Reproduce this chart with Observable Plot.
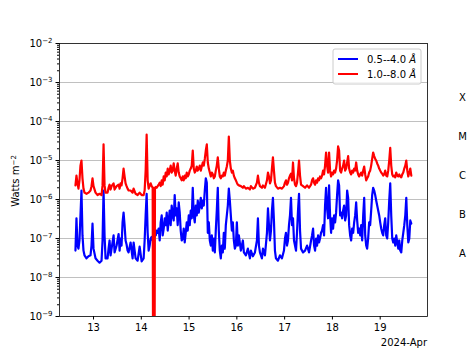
<!DOCTYPE html>
<html><head><meta charset="utf-8">
<script src="https://cdn.jsdelivr.net/npm/d3@7"></script>
<script src="https://cdn.jsdelivr.net/npm/@observablehq/plot@0.6"></script>
<style>
html,body{margin:0;padding:0;background:#fff;}
#chart{width:474px;height:355px;}
</style></head><body><div id="chart"></div>
<script>
// Time in days of April 2024
const days = [
12.622,12.643,12.664,12.685,12.706,12.727,12.748,12.769,12.790,12.811,12.853,12.895,12.937,12.958,12.979,
13.000,13.042,13.084,13.126,13.168,13.189,13.210,13.231,13.252,13.294,13.315,13.336,13.357,13.378,13.420,
13.441,13.483,13.525,13.546,13.566,13.587,13.608,13.629,13.650,13.671,13.692,13.713,13.734,13.776,13.818,
13.839,13.881,13.923,13.965,14.007,14.049,14.070,14.091,14.112,14.133,14.154,14.175,14.196,14.217,14.238,
14.250,14.262,14.274,14.286,14.304,14.322,
14.343,14.364,14.385,14.406,14.427,14.448,14.469,14.490,14.511,14.532,14.553,14.573,14.594,14.615,14.636,
14.657,14.678,14.699,14.720,14.741,14.762,14.783,14.804,14.825,14.846,14.867,14.888,14.909,14.930,14.951,
14.972,14.993,15.014,15.035,15.056,15.077,15.098,15.119,15.140,15.161,15.182,15.203,15.224,15.245,15.266,
15.287,15.308,15.329,15.350,15.371,15.392,15.413,15.434,15.455,15.476,15.497,15.518,15.539,15.559,15.580,
15.601,15.622,15.643,15.664,15.685,15.706,15.727,15.748,15.769,15.790,15.811,15.832,15.853,15.874,15.895,
15.916,15.937,15.958,15.979,16.000,16.021,16.042,16.084,16.126,16.147,16.189,16.231,16.273,16.294,16.336,
16.378,16.420,16.441,16.462,16.483,16.525,16.546,16.588,16.630,16.651,16.672,16.693,16.714,16.734,16.755,
16.776,16.797,16.818,16.860,16.902,16.944,16.986,17.007,17.028,17.049,17.070,17.091,17.112,17.133,17.154,
17.175,17.196,17.217,17.238,17.259,17.280,17.301,17.322,17.343,17.385,17.427,17.469,17.511,17.553,17.574,
17.595,17.616,17.637,17.658,17.679,17.700,17.720,17.741,17.762,17.783,17.804,17.825,17.846,17.867,17.888,
17.909,17.930,17.951,17.972,17.993,18.014,18.035,18.056,18.077,18.098,18.119,18.140,18.161,18.182,18.203,
18.224,18.245,18.266,18.287,18.308,18.329,18.350,18.371,18.392,18.413,18.434,18.455,18.476,18.497,18.518,
18.539,18.560,18.581,18.602,18.623,18.644,18.665,18.686,18.707,18.727,18.748,18.769,18.790,18.811,18.832,
18.853,18.874,18.895,18.916,18.937,18.958,18.979,19.000,19.021,19.042,19.063,19.084,19.105,19.126,19.147,
19.168,19.189,19.210,19.231,19.252,19.273,19.294,19.315,19.336,19.357,19.378,19.399,19.420,19.441,19.462,
19.483,19.504,19.525,19.546,19.567,19.588,19.609,19.630,19.651
];
// 0.5--4.0 Å channel (W m^-2)
const flux05to40 = [
4.9e-8,3.3e-7,6.6e-8,5.5e-8,8.9e-8,3.9e-7,1.7e-6,1.2e-7,4.9e-8,3.7e-8,3.1e-8,3.5e-8,3.7e-8,6.6e-8,2.4e-7,
5.5e-8,3.1e-8,2.7e-8,2.4e-8,2.7e-8,8.9e-8,1.7e-6,1.2e-7,3.1e-8,3.1e-8,5.5e-8,8.9e-8,3.7e-8,5.5e-8,1.2e-7,
4.4e-8,6.6e-8,1.3e-7,4.9e-8,1.0e-7,6.6e-8,2.6e-7,4.6e-7,2.2e-7,8.9e-8,7.0e-8,4.9e-8,4.4e-8,7.9e-8,3.1e-8,
7.9e-8,3.1e-8,2.7e-8,6.2e-8,2.6e-8,3.1e-8,8.9e-8,3.9e-7,1.4e-6,1.4e-7,4.9e-8,6.6e-8,1.0e-7,1.1e-7,8.9e-8,
1.2e-7,1.4e-7,1.1e-7,1.6e-7,1.2e-7,1.6e-7,
1.4e-7,1.8e-7,8.9e-8,2.6e-7,3.9e-7,1.2e-7,1.8e-7,3.3e-7,2.2e-7,4.6e-7,1.6e-7,2.9e-7,5.2e-7,2.2e-7,7.0e-7,
3.9e-7,2.9e-7,1.3e-6,3.9e-7,5.9e-7,2.2e-7,8.4e-7,4.6e-7,1.6e-7,8.9e-8,1.0e-7,1.8e-7,7.9e-8,1.4e-7,2.6e-7,
1.6e-7,3.9e-7,2.2e-7,5.2e-7,3.3e-7,2.0e-6,3.9e-7,2.6e-7,7.0e-7,3.9e-7,9.4e-7,4.6e-7,7.0e-7,1.1e-6,5.9e-7,
9.4e-7,7.0e-7,1.7e-6,3.5e-6,2.7e-6,1.4e-7,2.6e-7,8.9e-8,6.6e-8,1.2e-7,4.9e-8,1.0e-7,4.4e-8,1.6e-7,5.2e-7,
2.0e-6,1.6e-7,4.9e-8,3.1e-8,6.6e-8,4.4e-8,1.4e-7,5.5e-8,2.2e-7,3.9e-7,7.0e-7,1.9e-6,9.4e-7,3.9e-7,1.6e-7,
2.6e-7,8.9e-8,5.5e-8,6.6e-8,2.6e-7,6.6e-8,1.2e-7,4.9e-8,8.9e-8,4.4e-8,3.7e-8,5.5e-8,3.1e-8,4.9e-8,3.5e-8,
4.4e-8,8.9e-8,3.3e-7,6.6e-8,4.4e-8,3.1e-8,5.5e-8,3.7e-8,1.4e-7,5.9e-7,2.2e-7,8.9e-8,1.6e-7,5.2e-7,1.1e-6,
2.9e-7,4.9e-8,3.1e-8,2.7e-8,3.7e-8,3.1e-8,4.9e-8,1.0e-7,1.4e-7,6.6e-8,8.9e-8,2.2e-7,3.9e-7,1.1e-6,2.2e-7,
3.3e-7,8.9e-8,6.6e-8,4.9e-8,1.4e-7,5.2e-7,1.4e-6,1.6e-7,5.5e-8,4.4e-8,4.9e-8,6.6e-8,4.4e-8,8.9e-8,1.2e-7,
1.8e-7,6.6e-8,4.9e-8,1.0e-7,6.6e-8,1.2e-7,7.9e-8,1.0e-7,1.4e-7,1.6e-7,2.2e-7,1.2e-7,7.0e-7,2.0e-6,5.9e-7,
3.3e-7,2.3e-6,3.9e-7,1.4e-7,3.3e-7,1.8e-7,3.9e-7,2.6e-7,4.6e-7,1.3e-6,3.1e-6,2.3e-6,3.9e-7,4.6e-7,3.3e-7,
5.2e-7,7.0e-7,2.9e-7,3.9e-7,1.7e-6,1.1e-6,2.2e-7,1.2e-7,8.9e-8,1.8e-7,1.4e-7,2.6e-7,3.9e-7,8.4e-7,2.9e-7,
1.4e-7,1.8e-7,1.2e-7,2.2e-7,8.9e-8,3.9e-7,1.1e-6,1.2e-7,6.6e-8,5.5e-8,1.0e-7,2.6e-7,2.2e-7,5.2e-7,1.3e-6,
2.0e-6,1.7e-6,1.3e-6,9.4e-7,7.0e-7,5.2e-7,3.9e-7,2.6e-7,1.8e-7,1.4e-7,1.2e-7,2.2e-7,3.3e-7,1.2e-7,1.0e-7,
2.6e-7,9.4e-7,2.6e-6,3.9e-7,1.0e-7,7.9e-8,1.0e-7,6.6e-8,1.2e-7,7.9e-8,5.5e-8,8.9e-8,4.9e-8,4.4e-8,8.9e-8,
1.4e-7,2.2e-7,3.9e-7,1.1e-6,2.2e-7,7.9e-8,1.0e-7,2.9e-7,2.4e-7
];
// 1.0--8.0 Å channel (W m^-2); 1e-12 marks the data dropout near Apr 14.26
const flux10to80 = [
2.3e-6,4.1e-6,2.6e-6,1.9e-6,3.1e-6,7.4e-6,1.0e-5,3.5e-6,1.9e-6,1.5e-6,1.4e-6,1.5e-6,1.7e-6,2.2e-6,3.5e-6,
2.2e-6,1.5e-6,1.3e-6,1.4e-6,1.3e-6,2.3e-6,2.6e-5,2.3e-6,1.5e-6,1.5e-6,2.0e-6,2.4e-6,1.8e-6,2.2e-6,2.6e-6,
1.8e-6,2.2e-6,2.4e-6,1.9e-6,2.6e-6,2.3e-6,3.5e-6,6.2e-6,3.9e-6,2.6e-6,2.2e-6,1.9e-6,1.7e-6,1.7e-6,1.5e-6,
1.9e-6,1.4e-6,1.3e-6,1.5e-6,1.3e-6,1.3e-6,1.7e-6,5.5e-6,4.6e-5,3.1e-6,1.9e-6,2.3e-6,2.6e-6,2.2e-6,2.0e-6,
1e-12,2.0e-6,1e-12,2.0e-6,2.1e-6,2.0e-6,
2.2e-6,2.4e-6,2.7e-6,2.2e-6,3.1e-6,2.4e-6,3.9e-6,3.1e-6,4.9e-6,3.9e-6,6.2e-6,4.4e-6,5.5e-6,7.4e-6,4.9e-6,
5.5e-6,8.4e-6,5.5e-6,4.1e-6,6.2e-6,8.4e-6,4.9e-6,3.9e-6,3.5e-6,3.1e-6,3.9e-6,3.1e-6,4.1e-6,3.5e-6,4.9e-6,
3.9e-6,4.4e-6,5.5e-6,6.2e-6,7.4e-6,1.8e-5,6.2e-6,4.9e-6,5.5e-6,7.0e-6,5.5e-6,6.2e-6,7.4e-6,5.5e-6,7.0e-6,
8.9e-6,7.4e-6,1.1e-5,1.8e-5,2.6e-5,8.9e-6,6.2e-6,4.9e-6,3.9e-6,4.9e-6,4.4e-6,3.5e-6,3.9e-6,5.5e-6,7.4e-6,
1.2e-5,6.2e-6,3.9e-6,3.5e-6,4.1e-6,3.9e-6,4.9e-6,4.1e-6,5.5e-6,7.0e-6,1.0e-5,4.1e-5,1.0e-5,6.2e-6,4.9e-6,
5.5e-6,4.1e-6,3.5e-6,3.1e-6,2.7e-6,2.4e-6,2.3e-6,2.2e-6,2.0e-6,2.2e-6,1.9e-6,2.0e-6,1.8e-6,2.2e-6,1.9e-6,
2.0e-6,2.7e-6,4.1e-6,2.7e-6,2.2e-6,2.0e-6,2.3e-6,2.0e-6,3.1e-6,4.9e-6,3.9e-6,2.6e-6,3.1e-6,6.2e-6,1.2e-5,
5.5e-6,2.7e-6,2.2e-6,1.9e-6,2.0e-6,1.9e-6,2.2e-6,2.7e-6,3.1e-6,2.4e-6,2.7e-6,3.5e-6,4.1e-6,4.6e-6,3.1e-6,
8.9e-6,3.5e-6,2.4e-6,2.2e-6,2.7e-6,4.9e-6,1.0e-5,4.1e-6,2.4e-6,2.2e-6,2.0e-6,2.3e-6,2.0e-6,2.4e-6,3.1e-6,
3.5e-6,2.7e-6,2.4e-6,3.1e-6,2.7e-6,3.5e-6,3.1e-6,3.9e-6,3.5e-6,4.1e-6,5.5e-6,4.4e-6,7.4e-6,1.6e-5,7.4e-6,
4.9e-6,1.6e-5,5.5e-6,3.9e-6,4.9e-6,4.4e-6,5.5e-6,4.9e-6,6.2e-6,1.0e-5,2.3e-5,1.8e-5,5.5e-6,4.9e-6,6.2e-6,
7.4e-6,1.0e-5,5.5e-6,6.2e-6,8.9e-6,1.3e-5,6.2e-6,4.9e-6,4.4e-6,5.5e-6,4.9e-6,6.2e-6,5.5e-6,8.9e-6,5.5e-6,
4.4e-6,3.9e-6,4.4e-6,4.9e-6,4.1e-6,5.5e-6,7.0e-6,4.4e-6,3.1e-6,3.5e-6,3.9e-6,4.9e-6,5.5e-6,7.4e-6,1.1e-5,
1.6e-5,1.3e-5,1.1e-5,1.0e-5,8.4e-6,7.4e-6,6.2e-6,5.5e-6,4.9e-6,4.6e-6,4.1e-6,4.4e-6,5.5e-6,4.1e-6,3.9e-6,
5.5e-6,1.0e-5,2.1e-5,7.4e-6,4.4e-6,3.9e-6,4.1e-6,3.7e-6,4.9e-6,4.1e-6,3.9e-6,4.4e-6,3.9e-6,3.7e-6,4.4e-6,
4.9e-6,6.2e-6,7.4e-6,1.0e-5,5.5e-6,3.9e-6,4.9e-6,6.2e-6,4.1e-6
];
const seriesNames = ["0.5--4.0 ", "1.0--8.0 "];
const seriesColors = ["#0000ff", "#ff0000"];
const dayTicks = [13, 14, 15, 16, 17, 18, 19];
const majorTicksY = [1e-9, 1e-8, 1e-7, 1e-6, 1e-5, 1e-4, 1e-3, 1e-2];
const gridTicksY = [1e-8, 1e-7, 1e-6, 1e-5, 1e-4, 1e-3];
const classLabels = ["A", "B", "C", "M", "X"];
const classCenters = [3.16e-8, 3.16e-7, 3.16e-6, 3.16e-5, 3.16e-4];
const xLabelText = "2024-Apr";

const minorTicksY = [];
for (const d of majorTicksY.slice(0, -1)) for (let m = 2; m <= 9; m++) minorTicksY.push(m * d);

const rowsShort = days.map((t, i) => ({t, v: flux05to40[i]}));
const rowsLong = days.map((t, i) => ({t, v: flux10to80[i]}));
const classRows = classCenters.map((v, i) => ({v, label: classLabels[i]}));

const W = 474, H = 355, ML = 59, MR = 47, MT = 43, MB = 39;

const chart = Plot.plot({
  width: W, height: H,
  marginLeft: ML, marginRight: MR, marginTop: MT, marginBottom: MB,
  style: {fontFamily: "DejaVu Sans", fontSize: "10px", color: "#000", background: "#fff", overflow: "visible"},
  x: {domain: [12.288, 19.99]},
  y: {type: "log", domain: [1e-9, 1e-2]},
  marks: [
    Plot.gridY(gridTicksY, {stroke: "#b0b0b0", strokeOpacity: 1, strokeWidth: 0.8}),
    Plot.line(rowsShort, {x: "t", y: "v", stroke: seriesColors[0], strokeWidth: 2.2, clip: true}),
    Plot.line(rowsLong, {x: "t", y: "v", stroke: seriesColors[1], strokeWidth: 2.2, clip: true}),
    Plot.frame({stroke: "#000", strokeWidth: 0.8}),
    Plot.axisX(dayTicks, {tickSize: 3.5, tickPadding: 3.5, tickFormat: d => String(d), label: null}),
    Plot.axisY(majorTicksY, {tickSize: 3.5, tickPadding: 3.5, tickFormat: d => "10^" + Math.round(Math.log10(d)), label: null}),
    Plot.axisY(minorTicksY, {tickSize: 2, tickFormat: () => "", label: null}),
    Plot.text(classRows, {y: "v", text: "label", frameAnchor: "right", dx: 35, dy: -4, textAnchor: "middle", fontSize: 10, fill: "#000"})
  ]
});

const svg = chart;
const NS = "http://www.w3.org/2000/svg";
// superscript exponents on y tick labels
svg.querySelectorAll('g[aria-label="y-axis tick label"] text').forEach(el => {
  const s = el.textContent;
  if (s.startsWith("10^")) {
    const exp = s.slice(3).replace("-", "\u2212");
    el.textContent = "10";
    const ts = document.createElementNS(NS, "tspan");
    ts.setAttribute("dy", "-0.5em");
    ts.setAttribute("font-size", "7px");
    ts.textContent = exp;
    el.appendChild(ts);
  }
});

const g = d3.select(svg).append("g").attr("font-family", "DejaVu Sans").attr("fill", "#000");
// y label
const yl = g.append("text").attr("transform", "translate(19,181) rotate(-90)")
  .attr("text-anchor", "middle").attr("font-size", 10).text("Watts m");
yl.append("tspan").attr("dy", "-0.5em").attr("font-size", 7).text("\u22122");
// x label
g.append("text").attr("x", W - MR).attr("y", 346).attr("text-anchor", "end").attr("font-size", 10).text(xLabelText);
// legend
const lg = g.append("g");
lg.append("rect").attr("x", 333).attr("y", 49).attr("width", 88).attr("height", 35).attr("rx", 2)
  .attr("fill", "#fff").attr("fill-opacity", 0.8).attr("stroke", "#cccccc").attr("stroke-width", 1);
seriesNames.forEach((name, i) => {
  const y = 59 + i * 15;
  lg.append("line").attr("x1", 338).attr("x2", 358).attr("y1", y).attr("y2", y)
    .attr("stroke", seriesColors[i]).attr("stroke-width", 2);
  const t = lg.append("text").attr("x", 367).attr("y", y + 3.5).attr("font-size", 10)
    .attr("text-anchor", "start").text(name);
  t.append("tspan").attr("font-style", "italic").text("\u00c5");
});

document.getElementById("chart").appendChild(chart);
</script>
</body></html>
